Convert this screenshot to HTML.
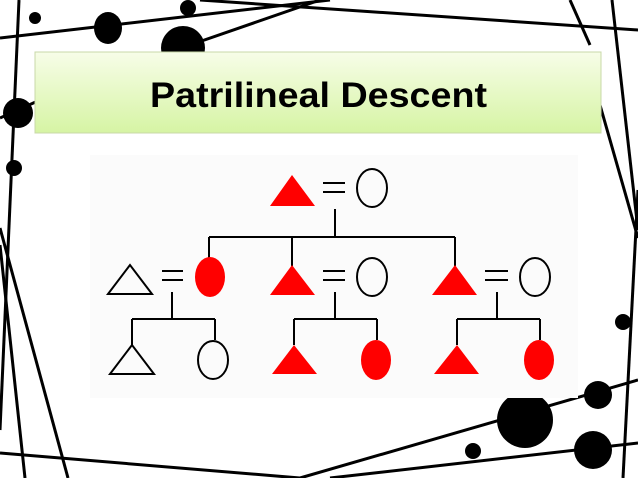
<!DOCTYPE html>
<html><head><meta charset="utf-8"><style>
html,body{margin:0;padding:0;background:#fff;width:638px;height:478px;overflow:hidden}
svg{display:block}
</style></head><body>
<svg width="638" height="478" viewBox="0 0 638 478" xmlns="http://www.w3.org/2000/svg">
<defs><linearGradient id="g" x1="0" y1="0" x2="0" y2="1"><stop offset="0" stop-color="#f7fde8"/><stop offset="1" stop-color="#d6f4a4"/></linearGradient></defs>
<g stroke="#000" stroke-width="3" fill="none">
<line x1="0" y1="38" x2="330" y2="0"/>
<line x1="200" y1="0" x2="638" y2="30"/>
<line x1="190" y1="45" x2="320" y2="0"/>
<line x1="0" y1="118" x2="40" y2="100"/>
<line x1="19" y1="0" x2="0" y2="430"/>
<line x1="0" y1="245" x2="25" y2="478"/>
<line x1="0" y1="228" x2="68" y2="478"/>
<line x1="0" y1="453" x2="300" y2="478"/>
<line x1="570" y1="0" x2="590" y2="45"/>
<line x1="612" y1="0" x2="638" y2="230"/>
<line x1="600" y1="105" x2="638" y2="238"/>
<line x1="638" y1="190" x2="623" y2="478"/>
<line x1="300" y1="478" x2="638" y2="380"/>
<line x1="330" y1="478" x2="638" y2="443"/>
</g>
<g fill="#000">
<circle cx="35" cy="18" r="6"/>
<ellipse cx="108" cy="28" rx="14" ry="16"/>
<circle cx="188" cy="8" r="8"/>
<circle cx="183" cy="48" r="22"/>
<circle cx="18" cy="113" r="15"/>
<circle cx="14" cy="168" r="8"/>
<circle cx="623" cy="322" r="8"/>
<circle cx="525" cy="420" r="28"/>
<circle cx="598" cy="395" r="14"/>
<circle cx="593" cy="450" r="19"/>
<circle cx="473" cy="451" r="8"/>
</g>
<rect x="90" y="155" width="488" height="243" fill="#fbfbfb"/>
<rect x="35" y="52" width="566" height="81" fill="url(#g)" stroke="#c8d8a8" stroke-width="1"/>
<text x="150" y="107" textLength="337" lengthAdjust="spacingAndGlyphs" font-family="Liberation Sans, sans-serif" font-weight="bold" font-size="35" fill="#000">Patrilineal Descent</text>
<g stroke="#000" stroke-width="2" fill="none">
<line x1="323" y1="183" x2="345" y2="183"/><line x1="323" y1="192" x2="345" y2="192"/>
<line x1="335" y1="209" x2="335" y2="237"/>
<line x1="209" y1="237" x2="455" y2="237"/>
<line x1="209" y1="237" x2="209" y2="258"/><line x1="292" y1="237" x2="292" y2="266"/><line x1="455" y1="237" x2="455" y2="266"/>
<line x1="162" y1="271" x2="183" y2="271"/><line x1="162" y1="280" x2="183" y2="280"/>
<line x1="323" y1="271" x2="345" y2="271"/><line x1="323" y1="280" x2="345" y2="280"/>
<line x1="485" y1="271" x2="508" y2="271"/><line x1="485" y1="280" x2="508" y2="280"/>
<line x1="172" y1="292" x2="172" y2="319"/><line x1="132" y1="319" x2="215" y2="319"/><line x1="132" y1="319" x2="132" y2="345"/><line x1="215" y1="319" x2="215" y2="340"/>
<line x1="335" y1="292" x2="335" y2="319"/><line x1="294" y1="319" x2="377" y2="319"/><line x1="294" y1="319" x2="294" y2="345"/><line x1="377" y1="319" x2="377" y2="340"/>
<line x1="497" y1="292" x2="497" y2="319"/><line x1="457" y1="319" x2="540" y2="319"/><line x1="457" y1="319" x2="457" y2="345"/><line x1="540" y1="319" x2="540" y2="340"/>
<ellipse cx="372" cy="188" rx="15" ry="19"/>
<polygon points="108,294 130,265 152,294"/>
<ellipse cx="372" cy="277" rx="15" ry="19"/>
<ellipse cx="535" cy="277" rx="15" ry="19"/>
<polygon points="110,374 132,345 154,374"/>
<ellipse cx="213" cy="360" rx="15" ry="19"/>
</g>
<g fill="#f00">
<polygon points="270,206 292,175 315,206"/>
<ellipse cx="210" cy="277" rx="15" ry="20"/>
<polygon points="270,295 292,265 315,295"/>
<polygon points="432,295 455,265 477,295"/>
<polygon points="272,374 294,345 317,374"/>
<ellipse cx="376" cy="360" rx="15" ry="20"/>
<polygon points="434,374 457,345 479,374"/>
<ellipse cx="539" cy="360" rx="15" ry="20"/>
</g>
</svg>
</body></html>
